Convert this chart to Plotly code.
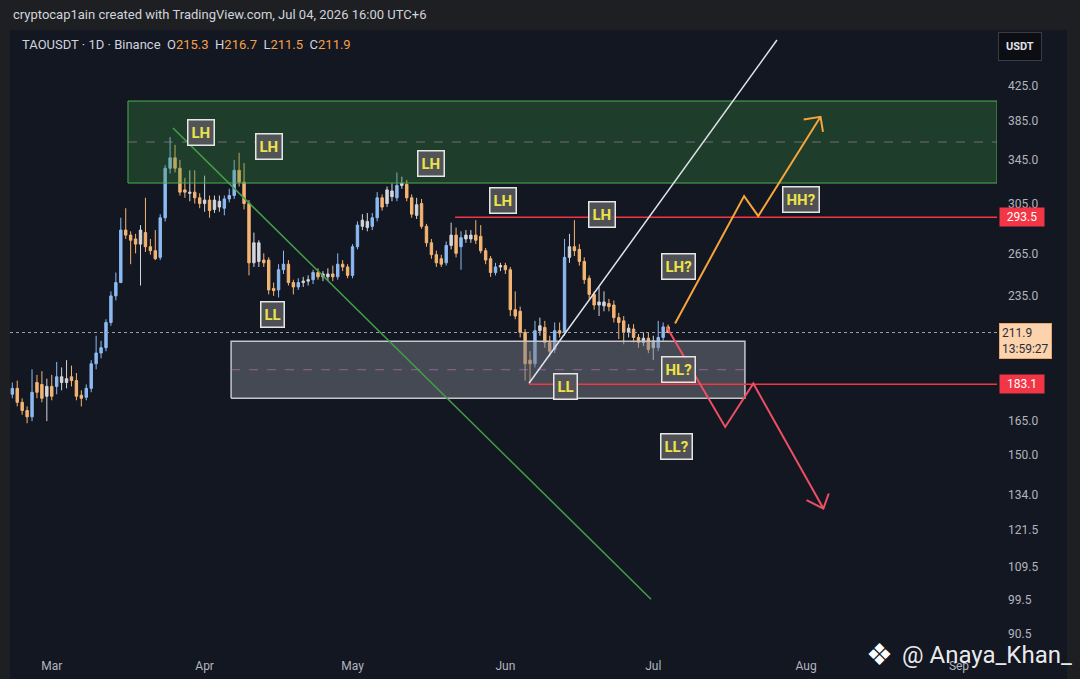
import numpy as np
import pandas as pd
import plotly.graph_objects as go

# TAOUSDT daily candles, 21 Feb -> 04 Jul 2026
start_day = "2026-02-21"
opens = [178, 181, 174, 170, 167, 179, 183, 177, 182, 182,
         187, 184, 187, 185, 177.5, 176.5, 181, 194, 200, 203,
         218, 235, 244, 283, 279, 276, 272, 281, 270, 267,
         262, 293, 337, 347, 337, 317, 315, 315, 310, 305,
         308, 300, 307, 301, 309, 312, 335, 324, 305, 258,
         273, 260, 260, 240, 239, 253, 257, 244, 241, 244,
         245, 246, 251, 248, 250, 250, 248, 257, 255, 249,
         270, 286, 290, 286, 293, 310, 305, 316, 310, 321,
         322, 310, 295, 305, 286, 273, 264, 261, 258, 271,
         279, 270, 276, 279, 279, 278, 267, 261, 251, 255,
         256, 253, 226, 225, 212, 196, 194, 213, 215, 206,
         202, 213, 212, 262, 270, 268, 259, 247, 236, 229,
         231, 230, 229, 221, 219, 212, 214, 209, 206, 208.5,
         203, 203, 209, 215.3]
highs = [184, 185, 176, 172, 191, 188, 190, 186, 188, 195,
         192, 196, 193, 189, 180, 183, 196, 210, 207, 220,
         238, 251, 293, 301, 282, 280, 287, 310, 276, 283,
         296, 340, 368, 360, 345, 328, 335, 335, 314, 330,
         312, 312, 312, 312, 318, 345, 352, 342, 308, 281,
         275, 265, 262, 244, 257, 267, 260, 246, 247, 248,
         249, 253, 254, 252, 254, 256, 265, 260, 257, 272,
         290, 296, 297, 297, 315, 313, 320, 323, 333, 329,
         326, 313, 310, 309, 288, 276, 267, 264, 274, 289,
         285, 282, 283, 283, 291, 287, 269, 263, 258, 258,
         258, 255, 238, 228, 214, 201, 219, 221, 219, 210,
         218, 218, 276, 280, 291, 272, 262, 249, 238, 241,
         238, 233, 232, 224, 222, 217, 217, 211, 212, 212,
         210, 219, 218, 216.7]
lows = [176, 172, 168, 164, 165, 176, 174, 165, 175, 178,
        180, 181, 182, 175, 172, 175, 179, 191, 197, 201,
        216, 232, 247, 276, 257, 265, 242, 266, 264, 260,
        260, 290, 332, 333, 312, 310, 307, 305, 301, 298,
        293, 297, 298, 295, 306, 309, 320, 300, 249, 255,
        255, 255, 236, 235, 234, 250, 242, 236, 239, 241,
        242, 243, 246, 245, 245, 245, 246, 252, 247, 247,
        268, 283, 282, 283, 290, 299, 302, 307, 307, 318,
        307, 293, 292, 284, 270, 261, 255, 255, 256, 268,
        262, 253, 273, 273, 272, 265, 257, 248, 249, 252,
        250, 222, 220, 209, 185, 184, 192, 210, 203, 198,
        200, 209, 210, 258, 263, 256, 243, 233, 226, 222,
        225, 225, 218, 208, 205, 209, 206, 203, 204, 200,
        196, 201, 207, 211.5]
closes = [181, 174, 170, 167, 179, 184, 176, 182, 177, 187,
          184, 186, 185, 177, 176, 181, 194, 200, 203, 218,
          235, 244, 283, 279, 275, 272, 283, 270, 267, 261,
          293, 337, 347, 337, 315, 315, 314, 310, 305, 308,
          299, 308, 302, 309, 312, 335, 324, 305, 258, 273,
          259, 258, 239, 238.5, 253, 257, 244, 241, 244, 245,
          246, 251, 248, 250, 248, 248, 257, 255, 249, 270,
          287, 291, 285, 293, 310, 302, 317, 311, 321, 323,
          310, 296, 304, 286, 273, 264, 258, 257, 271, 279,
          265, 277, 279, 276, 275, 267, 260, 251, 255, 256,
          253, 226, 222, 212, 194, 194, 213, 216, 206, 201,
          213, 211.5, 262, 270, 267, 259, 246, 236, 229, 231,
          228.5, 228, 221, 218, 212, 214.5, 209, 206, 208.5, 202,
          207, 209, 215.3, 211.9]
# candle colouring: b = blue, o = orange, g = grey
tones = ("boooboogob" "ggooobbbbb" "bbbooogooo" "bbbooogoog"
         "oggbbbooog" "gooobboobg" "gboggoboob" "bggbboggbg"
         "oogooooobg" "obggoooobg" "oooooobgoo" "bobgooooog"
         "goooogoogo" "gbbo")

price_ticks = [425, 385, 345, 305, 265, 235, 165, 150, 134, 121.5, 109.5, 99.5, 90.5]
month_ticks = ["2026-03-01", "2026-04-01", "2026-05-01", "2026-06-01",
               "2026-07-01", "2026-08-01", "2026-09-01"]
month_names = ["Mar", "Apr", "May", "Jun", "Jul", "Aug", "Sep"]

last_price = 211.9
res_level = 293.5
sup_level = 183.1

# drawings (date, price)
green_zone = ("2026-03-16 11:00", 323.2, 407.4)
grey_zone = ("2026-04-06 09:00", "2026-07-19 14:00", 176.0, 206.8)
green_line = (["2026-03-25 14:00", "2026-06-30 13:00"], [377.5, 99.8])
white_line = (["2026-06-05 19:00", "2026-07-26 02:00"], [183.6, 484])
up_path = (["2026-07-05 10:00", "2026-07-19 10:00", "2026-07-22 07:00", "2026-08-03 22:00"],
           [217.4, 311.5, 294.4, 389.7])
up_head = (["2026-07-31 12:00", "2026-08-03 22:00", "2026-08-04 10:00"], [386.8, 389.7, 373.5])
down_path = (["2026-07-03 17:00", "2026-07-15 14:00", "2026-07-21 07:00", "2026-08-04 12:00"],
             [215.3, 162.3, 183.5, 128.9])
down_head = (["2026-08-01 02:00", "2026-08-04 12:00", "2026-08-05 14:00"], [132.0, 128.9, 134.5])

labels = [("LH", "2026-03-31 05:00", 373.2), ("LH", "2026-04-14 02:00", 358),
          ("LL", "2026-04-14 19:00", 222.7), ("LH", "2026-05-16 22:00", 341.9),
          ("LH", "2026-05-31 14:00", 307.3), ("LH", "2026-06-20 12:00", 295.6),
          ("LL", "2026-06-13 07:00", 182.1), ("HH?", "2026-07-30 22:00", 308.7),
          ("LH?", "2026-07-06 02:00", 255), ("HL?", "2026-07-06 02:00", 190.7),
          ("LL?", "2026-07-05 19:00", 153.4)]

x_range = ["2026-02-20 12:45", "2026-09-08 17:00"]
y_range = [86.7, 497.9]

W, H = 1080, 679
ML, MR, MT, MB = 10, 83, 30, 30
PW = W - ML - MR
PH = H - MT - MB


def px(v):
    return (v - ML) / PW


def py(v):
    return (H - MB - v) / PH


BG = "#131722"
OUTER = "#1e1f22"
AXIS_TXT = "#b2b5be"

fig = go.Figure()

# zones
gz_x = [green_zone[0], x_range[1], x_range[1], green_zone[0], green_zone[0]]
gz_y = [green_zone[1], green_zone[1], green_zone[2], green_zone[2], green_zone[1]]
fig.add_trace(go.Scatter(x=gz_x, y=gz_y, fill="toself", fillcolor="rgba(56,142,60,0.32)",
                         line=dict(color="#4caf50", width=1), mode="lines", hoverinfo="skip"))
gmid = np.sqrt(green_zone[1] * green_zone[2])
fig.add_trace(go.Scatter(x=[green_zone[0], x_range[1]], y=[gmid, gmid], mode="lines",
                         line=dict(color="rgba(170,140,170,0.6)", width=1, dash="dash"), hoverinfo="skip"))

sz_x = [grey_zone[0], grey_zone[1], grey_zone[1], grey_zone[0], grey_zone[0]]
sz_y = [grey_zone[2], grey_zone[2], grey_zone[3], grey_zone[3], grey_zone[2]]
fig.add_trace(go.Scatter(x=sz_x, y=sz_y, fill="toself", fillcolor="rgba(120,123,134,0.5)",
                         line=dict(color="#c4c6cc", width=1.5), mode="lines", hoverinfo="skip"))
smid = np.sqrt(grey_zone[2] * grey_zone[3])
fig.add_trace(go.Scatter(x=[grey_zone[0], grey_zone[1]], y=[smid, smid], mode="lines",
                         line=dict(color="rgba(190,120,190,0.6)", width=1, dash="dash"), hoverinfo="skip"))

# last price dotted line
fig.add_trace(go.Scatter(x=x_range, y=[last_price, last_price], mode="lines",
                         line=dict(color="#9aa0ab", width=1, dash="dot"), hoverinfo="skip"))

# candles
dates = pd.date_range(start_day, periods=len(closes), freq="D")
tone_colors = {"b": "#8dbaf2", "o": "#f5b572", "g": "#d3d6dc"}
for key, col in tone_colors.items():
    idx = [i for i, t in enumerate(tones) if t == key]
    fig.add_trace(go.Candlestick(
        x=dates[idx],
        open=[opens[i] for i in idx], high=[highs[i] for i in idx],
        low=[lows[i] for i in idx], close=[closes[i] for i in idx],
        increasing=dict(line=dict(color=col, width=1), fillcolor=col),
        decreasing=dict(line=dict(color=col, width=1), fillcolor=col),
        hoverinfo="skip"))

# horizontal levels
fig.add_trace(go.Scatter(x=["2026-05-21 19:00", x_range[1]], y=[res_level, res_level], mode="lines",
                         line=dict(color="#f23645", width=1.5), hoverinfo="skip"))
fig.add_trace(go.Scatter(x=["2026-06-05 19:00", x_range[1]], y=[sup_level, sup_level], mode="lines",
                         line=dict(color="#f23645", width=1.5), hoverinfo="skip"))

# trend lines and projection arrows
fig.add_trace(go.Scatter(x=green_line[0], y=green_line[1], mode="lines",
                         line=dict(color="#43a047", width=1.5), hoverinfo="skip"))
fig.add_trace(go.Scatter(x=white_line[0], y=white_line[1], mode="lines",
                         line=dict(color="#e0e3eb", width=1.5), hoverinfo="skip"))
for path, col in [(up_path, "#f7a43b"), (up_head, "#f7a43b"),
                  (down_path, "#ef4f63"), (down_head, "#ef4f63")]:
    fig.add_trace(go.Scatter(x=path[0], y=path[1], mode="lines",
                             line=dict(color=col, width=2), hoverinfo="skip"))

ann = []
for txt, d, p in labels:
    ann.append(dict(text="<b>%s</b>" % txt, x=d, y=np.log10(p), xref="x", yref="y",
                    xanchor="center", yanchor="middle",
                    showarrow=False, font=dict(color="#ece24a", size=15),
                    bgcolor="rgba(85,86,90,0.92)", bordercolor="#e6e6e6", borderwidth=1.5,
                    borderpad=3))

# price axis tags
for val in [res_level, sup_level]:
    ann.append(dict(text="%.1f" % val, x=px(999), xanchor="left", xref="paper",
                    y=np.log10(val), yref="y", yanchor="middle", showarrow=False,
                    font=dict(color="white", size=12), bgcolor="#f23645", width=40,
                    borderpad=2))
ann.append(dict(text="%.1f<br>13:59:27" % last_price, x=px(999), xanchor="left", xref="paper",
                y=np.log10(last_price), yref="y", yanchor="top", yshift=10, showarrow=False,
                align="left", font=dict(color="#2a2e39", size=12), bgcolor="#fcd3ad",
                bordercolor="#e8a86a", borderwidth=1, borderpad=2))
ann.append(dict(text="<b>USDT</b>", x=px(1020), y=py(46), xref="paper", yref="paper",
                xanchor="center", yanchor="middle",
                showarrow=False, font=dict(color="#e0e3eb", size=11), bgcolor="#0c0e13",
                bordercolor="#3a3d45", borderwidth=1, borderpad=7))

# header and legend text
ann.append(dict(text="cryptocap1ain created with TradingView.com, Jul 04, 2026 16:00 UTC+6",
                x=px(11), y=py(15), xref="paper", yref="paper", xanchor="left", yanchor="middle",
                showarrow=False, font=dict(color="#d1d4dc", size=13)))
orange = "#f7a04b"
legend_txt = ("TAOUSDT · 1D · Binance  O<span style='color:%s'>215.3</span>  "
              "H<span style='color:%s'>216.7</span>  L<span style='color:%s'>211.5</span>  "
              "C<span style='color:%s'>211.9</span>") % (orange, orange, orange, orange)
ann.append(dict(text=legend_txt, x=px(20), y=py(45), xref="paper", yref="paper",
                xanchor="left", yanchor="middle", showarrow=False,
                font=dict(color="#d1d4dc", size=13)))

# watermark
ann.append(dict(text="❖", x=px(879), y=py(654), xref="paper", yref="paper",
                xanchor="center", yanchor="middle",
                showarrow=False, font=dict(color="white", size=30)))
ann.append(dict(text="@ Anaya_Khan_", x=px(900), y=py(655), xref="paper", yref="paper",
                xanchor="left", yanchor="middle", showarrow=False,
                font=dict(color="rgba(255,255,255,0.93)", size=24)))

shapes = [
    dict(type="rect", xref="paper", yref="paper", x0=px(0), x1=px(W), y0=py(30), y1=py(0),
         fillcolor=OUTER, line=dict(width=0), layer="below"),
    dict(type="rect", xref="paper", yref="paper", x0=px(0), x1=px(10), y0=py(H), y1=py(30),
         fillcolor=OUTER, line=dict(width=0), layer="below"),
    dict(type="rect", xref="paper", yref="paper", x0=px(1067), x1=px(W), y0=py(H), y1=py(30),
         fillcolor=OUTER, line=dict(width=0), layer="below"),
]

fig.update_layout(
    width=W, height=H, autosize=False,
    margin=dict(l=ML, r=MR, t=MT, b=MB),
    paper_bgcolor=BG, plot_bgcolor=BG,
    font=dict(family="Roboto", color=AXIS_TXT),
    showlegend=False,
    annotations=ann, shapes=shapes,
    xaxis=dict(range=x_range, type="date", rangeslider=dict(visible=False),
               tickvals=month_ticks, ticktext=month_names, showgrid=False, zeroline=False,
               showline=False, ticks="", ticklabelstandoff=8, automargin=False,
               tickfont=dict(color=AXIS_TXT, size=12)),
    yaxis=dict(type="log", range=[np.log10(y_range[0]), np.log10(y_range[1])], side="right",
               tickvals=price_ticks, ticktext=["%.1f" % v for v in price_ticks],
               showgrid=False, zeroline=False, showline=False, ticks="", automargin=False,
               ticklabelstandoff=10, tickfont=dict(color=AXIS_TXT, size=12)),
)

# page margin off so the figure sits at the window origin
fig.write_html("out.html", config={"displayModeBar": False},
               post_script="document.body.style.margin='0';")
